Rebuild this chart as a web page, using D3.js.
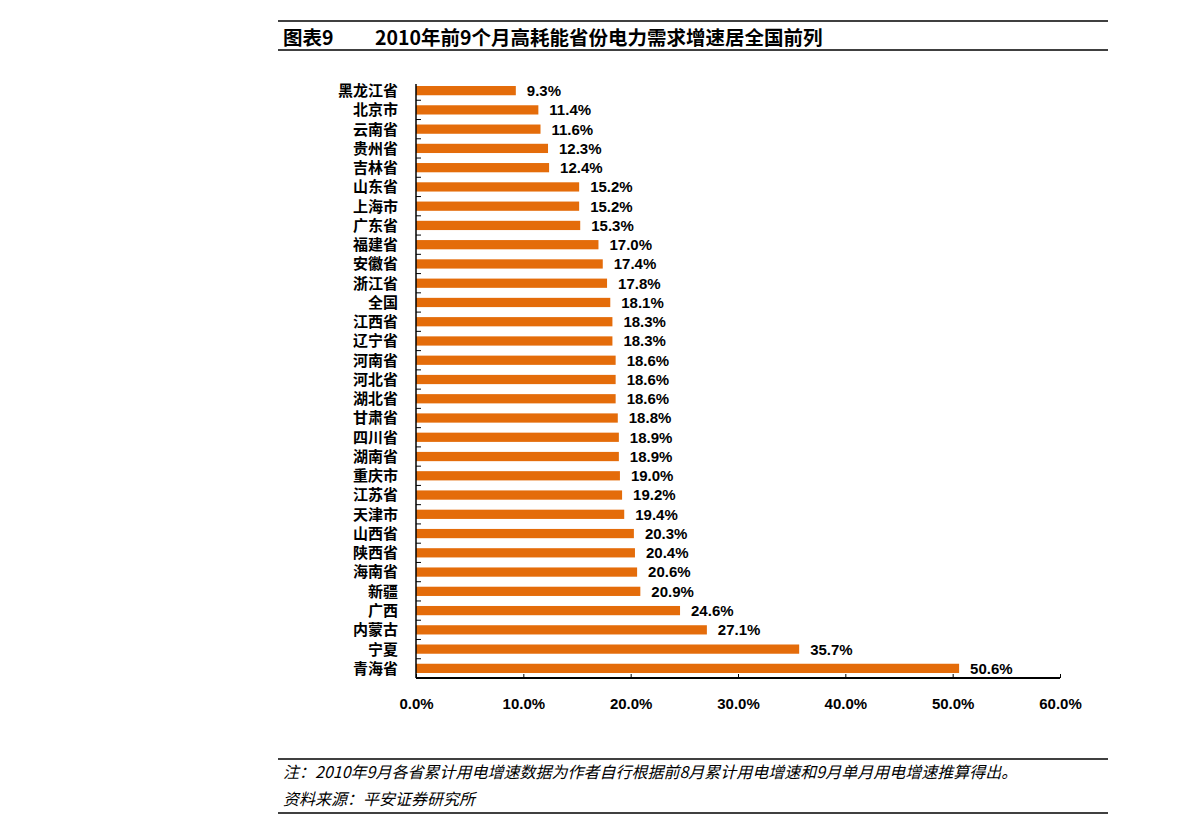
<!DOCTYPE html>
<html>
<head>
<meta charset="utf-8">
<script src="https://cdn.jsdelivr.net/npm/d3@7"></script>
<style>
body { margin: 0; background: #fff; }
svg text { font-family: "Liberation Sans", "Noto Sans CJK SC", sans-serif; }
.cjk { font-family: "Noto Sans CJK SC", sans-serif; }
</style>
</head>
<body>
<script>
// provinces, top to bottom
var provinces = ["黑龙江省","北京市","云南省","贵州省","吉林省","山东省","上海市","广东省","福建省","安徽省",
    "浙江省","全国","江西省","辽宁省","河南省","河北省","湖北省","甘肃省","四川省","湖南省",
    "重庆市","江苏省","天津市","山西省","陕西省","海南省","新疆","广西","内蒙古","宁夏","青海省"];
// growth of electricity demand, first 9 months 2010 (%)
var growth = [9.3,11.4,11.6,12.3,12.4,15.2,15.2,15.3,17.0,17.4,
    17.8,18.1,18.3,18.3,18.6,18.6,18.6,18.8,18.9,18.9,
    19.0,19.2,19.4,20.3,20.4,20.6,20.9,24.6,27.1,35.7,50.6];
var xTicks = [0,10,20,30,40,50,60];
var titleNo = "图表9";
var titleText = "2010年前9个月高耗能省份电力需求增速居全国前列";
var noteText = "注：2010年9月各省累计用电增速数据为作者自行根据前8月累计用电增速和9月单月用电增速推算得出。";
var sourceText = "资料来源：平安证券研究所";

var width = 1191, height = 828;
var svg = d3.select("body").append("svg")
    .attr("width", width)
    .attr("height", height);

//header rules and title
svg.append("line").attr("x1", 278).attr("x2", 1108).attr("y1", 21).attr("y2", 21)
    .attr("stroke", "#000").attr("stroke-width", 1.5);
svg.append("line").attr("x1", 278).attr("x2", 1108).attr("y1", 50).attr("y2", 50)
    .attr("stroke", "#000").attr("stroke-width", 1.5);
svg.append("text").attr("class", "cjk").attr("x", 283).attr("y", 45)
    .attr("font-size", 19.5).attr("font-weight", "bold").text(titleNo);
svg.append("text").attr("class", "cjk").attr("x", 375).attr("y", 45)
    .attr("font-size", 19.5).attr("font-weight", "bold").text(titleText);

//scales
var x = d3.scaleLinear().domain([0, 60]).range([416, 1060]);
var y = d3.scaleBand().domain(provinces).range([81, 678]).paddingInner(0.52).paddingOuter(0.26);

var chart = svg.append("g");

//bars
chart.selectAll(".bar")
    .data(growth)
    .enter()
    .append("rect")
    .attr("class", "bar")
    .attr("x", x(0))
    .attr("y", function(d, i){ return y(provinces[i]); })
    .attr("width", function(d){ return x(d) - x(0); })
    .attr("height", y.bandwidth())
    .attr("fill", "#E46C0A");

//value labels
chart.selectAll(".val")
    .data(growth)
    .enter()
    .append("text")
    .attr("class", "val")
    .attr("x", function(d){ return x(d) + 11; })
    .attr("y", function(d, i){ return y(provinces[i]) + y.bandwidth() / 2; })
    .attr("dy", "0.36em")
    .attr("font-size", 15)
    .attr("font-weight", "bold")
    .text(function(d){ return d.toFixed(1) + "%"; });

//category axis
var step = y.step();
svg.append("line").attr("x1", 416).attr("x2", 416).attr("y1", 84).attr("y2", 678)
    .attr("stroke", "#000").attr("stroke-width", 1.5);
chart.selectAll(".ytick")
    .data(provinces.slice(1))
    .enter()
    .append("line")
    .attr("x1", 416).attr("x2", 421)
    .attr("y1", function(d){ return y(d) - (step - y.bandwidth()) / 2; })
    .attr("y2", function(d){ return y(d) - (step - y.bandwidth()) / 2; })
    .attr("stroke", "#000");
chart.selectAll(".cat")
    .data(provinces)
    .enter()
    .append("text")
    .attr("class", "cjk")
    .attr("x", 398)
    .attr("y", function(d){ return y(d) + y.bandwidth() / 2; })
    .attr("dy", "0.36em")
    .attr("text-anchor", "end")
    .attr("font-size", 15)
    .attr("font-weight", "bold")
    .text(function(d){ return d; });

//value axis
var xAxis = d3.axisBottom(x)
    .tickValues(xTicks)
    .tickSize(-4)
    .tickPadding(20)
    .tickFormat(function(d){ return d.toFixed(1) + "%"; });
var gx = svg.append("g")
    .attr("transform", "translate(0,678)")
    .call(xAxis);
gx.select(".domain").attr("stroke-width", 2).attr("d", "M416,0H1060");
gx.selectAll("text")
    .attr("font-size", 15)
    .attr("font-weight", "bold")
    .attr("font-family", "Liberation Sans, sans-serif")
    .attr("fill", "#000");

//footer
svg.append("line").attr("x1", 278).attr("x2", 1108).attr("y1", 759).attr("y2", 759)
    .attr("stroke", "#000").attr("stroke-width", 1.5);
svg.append("line").attr("x1", 278).attr("x2", 1108).attr("y1", 813).attr("y2", 813)
    .attr("stroke", "#000").attr("stroke-width", 1.5);
svg.append("text").attr("class", "cjk").attr("x", 283).attr("y", 778)
    .attr("font-size", 16).attr("font-style", "italic").text(noteText);
svg.append("text").attr("class", "cjk").attr("x", 283).attr("y", 805)
    .attr("font-size", 16).attr("font-style", "italic").text(sourceText);
</script>
</body>
</html>
